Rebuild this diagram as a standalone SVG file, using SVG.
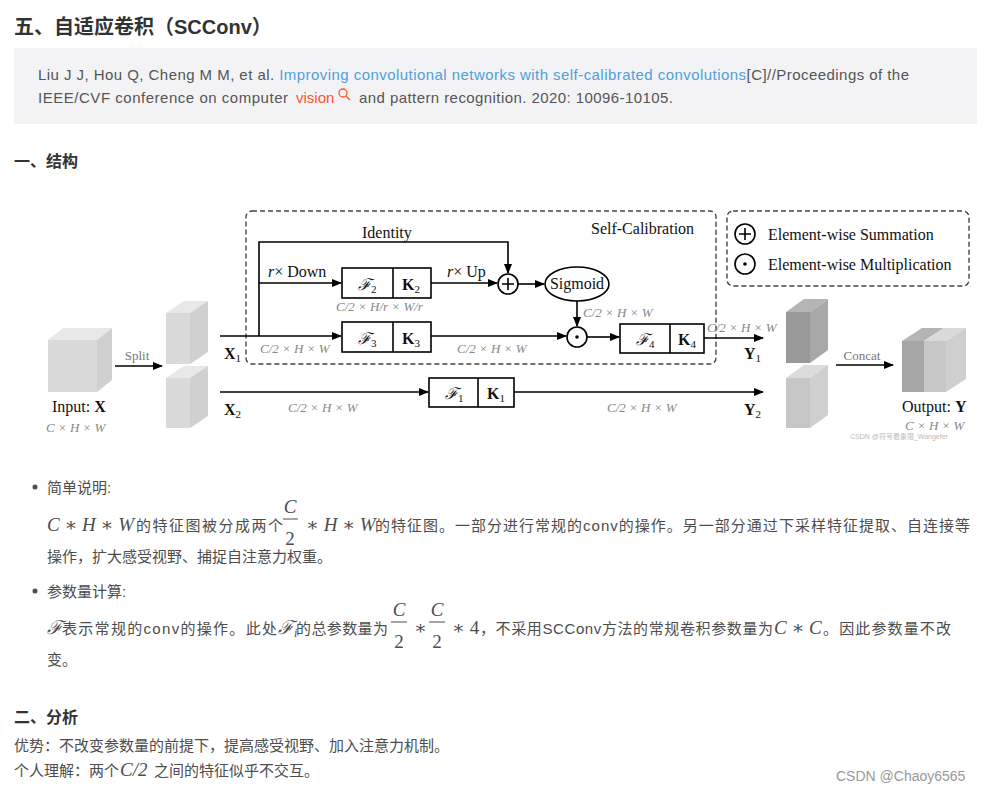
<svg xmlns="http://www.w3.org/2000/svg" width="998" height="793" viewBox="0 0 998 793">
<defs>
<marker id="ah" markerWidth="10" markerHeight="8" refX="9" refY="4" orient="auto" markerUnits="userSpaceOnUse"><path d="M0,0 L10,4 L0,8 z" fill="#000"/></marker>
<style>
.cn{font-family:"Liberation Sans","Noto Sans CJK SC",sans-serif;fill:#4d4d4d;font-size:15px}
.h{font-family:"Liberation Sans","Noto Sans CJK SC",sans-serif;fill:#333;font-weight:bold}
.m{font-family:"Liberation Serif","DejaVu Serif",serif;font-style:italic;fill:#4d4d4d;font-size:19px}
.mr{font-family:"Liberation Serif","DejaVu Serif",serif;fill:#4d4d4d;font-size:19px}
.d{font-family:"Liberation Serif",serif;font-size:16px;fill:#111}
.g{font-family:"Liberation Serif",serif;font-size:13px;fill:#888;font-style:italic}
.ln{stroke:#000;stroke-width:1.6;fill:none}
.arr{stroke:#000;stroke-width:1.6;fill:none;marker-end:url(#ah)}
.box{fill:#fff;stroke:#000;stroke-width:1.6}
.dash{fill:none;stroke:#444;stroke-width:1.4;stroke-dasharray:5,3}
</style>
</defs>
<rect width="998" height="793" fill="#fff"/>
<text x="14" y="34" class="h" font-size="20">五、自适应卷积（SCConv）</text>
<rect x="14" y="48" width="963" height="76" fill="#f3f3f5"/>
<text x="38" y="80" class="cn" style="fill:#555" textLength="871">Liu J J, Hou Q, Cheng M M, et al. <tspan style="fill:#4ea1db">Improving convolutional networks with self-calibrated convolutions</tspan>[C]//Proceedings of the</text>
<text x="38" y="103" class="cn" style="fill:#555" textLength="250">IEEE/CVF conference on computer</text>
<text x="296" y="103" class="cn" style="fill:#fc5531">vision</text>
<text x="359" y="103" class="cn" style="fill:#555" textLength="314">and pattern recognition. 2020: 10096-10105.</text>
<g fill="none" stroke="#fc5531" stroke-width="1.3"><circle cx="343" cy="93" r="4"/><line x1="346" y1="96" x2="350" y2="100"/></g>
<text x="14" y="167" class="h" font-size="16">一、结构</text>

<g id="selfcal"><rect x="246" y="211" width="470" height="153" rx="6" class="dash"/><text x="591" y="234" class="d">Self-Calibration</text></g>
<g id="legend"><rect x="727" y="211" width="242" height="75" rx="6" class="dash"/>
<circle cx="745" cy="234" r="10" class="ln"/><path d="M739,234h12M745,228v12" class="ln"/>
<text x="768" y="240" class="d">Element-wise Summation</text>
<circle cx="745" cy="264" r="10" class="ln"/><circle cx="745" cy="264" r="1.8" fill="#000"/>
<text x="768" y="270" class="d">Element-wise Multiplication</text></g>

<g id="input"><path d="M48,340 L63,328 L112,328 L97,340z" fill="#e8e8e8"/><path d="M97,340 L112,328 L112,380 L97,392z" fill="#d0d0d0"/><rect x="48" y="340" width="49" height="52" fill="#dadada"/>
<text x="52" y="412" class="d">Input: <tspan font-weight="bold">X</tspan></text><text x="46" y="432" class="g">C × H × W</text></g>
<g id="x1cube"><path d="M166,313 L184,301 L208,301 L190,313z" fill="#e8e8e8"/><path d="M190,313 L208,301 L208,352 L190,364z" fill="#d0d0d0"/><rect x="166" y="313" width="24" height="51" fill="#dadada"/></g>
<g id="x2cube"><path d="M166,378 L184,366 L208,366 L190,378z" fill="#e8e8e8"/><path d="M190,378 L208,366 L208,416 L190,428z" fill="#d0d0d0"/><rect x="166" y="378" width="24" height="50" fill="#dadada"/></g>
<g id="y1cube"><path d="M786,312 L804,299 L828,299 L810,312z" fill="#b5b5b5"/><path d="M810,312 L828,299 L828,350 L810,363z" fill="#a8a8a8"/><rect x="786" y="312" width="24" height="51" fill="#999"/></g>
<g id="y2cube"><path d="M786,378 L804,365 L828,365 L810,378z" fill="#dcdcdc"/><path d="M810,378 L828,365 L828,415 L810,428z" fill="#cfcfcf"/><rect x="786" y="378" width="24" height="50" fill="#c6c6c6"/></g>
<g id="output"><path d="M902,341 L922,328 L944,328 L924,341z" fill="#b5b5b5"/><path d="M924,341 L944,328 L966,328 L946,341z" fill="#dadada"/><path d="M946,341 L966,328 L966,379 L946,392z" fill="#cfcfcf"/><rect x="902" y="341" width="22" height="51" fill="#a6a6a6"/><rect x="924" y="341" width="22" height="51" fill="#c8c8c8"/>
<text x="902" y="412" class="d">Output: <tspan font-weight="bold">Y</tspan></text><text x="905" y="430" class="g">C × H × W</text>
<text x="850" y="439" font-family="Liberation Sans,Noto Sans CJK SC,sans-serif" font-size="7" fill="#bbb">CSDN @符号看象限_Wangefer</text></g>

<g id="f2"><rect x="342" y="268" width="89" height="30" class="box"/><line x1="393" y1="268" x2="393" y2="298" class="ln"/><text x="358" y="290" class="d" font-style="italic">ℱ<tspan font-size="11" dy="3" font-style="normal">2</tspan></text><text x="402" y="290" class="d" font-weight="bold">K<tspan font-size="11" dy="3" font-weight="normal">2</tspan></text></g>
<g id="f3"><rect x="342" y="322" width="89" height="30" class="box"/><line x1="393" y1="322" x2="393" y2="352" class="ln"/><text x="358" y="344" class="d" font-style="italic">ℱ<tspan font-size="11" dy="3" font-style="normal">3</tspan></text><text x="402" y="344" class="d" font-weight="bold">K<tspan font-size="11" dy="3" font-weight="normal">3</tspan></text></g>
<g id="f4"><rect x="620" y="324" width="84" height="29" class="box"/><line x1="670" y1="324" x2="670" y2="353" class="ln"/><text x="636" y="345" class="d" font-style="italic">ℱ<tspan font-size="11" dy="3" font-style="normal">4</tspan></text><text x="678" y="345" class="d" font-weight="bold">K<tspan font-size="11" dy="3" font-weight="normal">4</tspan></text></g>
<g id="f1"><rect x="429" y="378" width="85" height="29" class="box"/><line x1="478" y1="378" x2="478" y2="407" class="ln"/><text x="445" y="399" class="d" font-style="italic">ℱ<tspan font-size="11" dy="3" font-style="normal">1</tspan></text><text x="487" y="399" class="d" font-weight="bold">K<tspan font-size="11" dy="3" font-weight="normal">1</tspan></text></g>
<g id="plus"><circle cx="508" cy="284" r="10" class="box"/><path d="M502,284h12M508,278v12" class="ln"/></g>
<g id="sigmoid"><ellipse cx="577" cy="284" rx="32" ry="17" class="box"/><text x="577" y="289" class="d" text-anchor="middle">Sigmoid</text></g>
<g id="mult"><circle cx="577" cy="337" r="10" class="box"/><circle cx="577" cy="337" r="1.8" fill="#000"/></g>

<g id="connectors">
<line x1="115" y1="366" x2="162" y2="366" class="arr"/>
<line x1="836" y1="365" x2="893" y2="365" class="arr"/>
<line x1="220" y1="336" x2="341" y2="336" class="arr"/>
<path d="M259,336 V242 H508 V273" class="arr"/>
<path d="M259,283 H341" class="arr"/>
<path d="M431,283 H497" class="arr"/>
<path d="M518,284 H544" class="arr"/>
<path d="M577,301 V326" class="arr"/>
<path d="M431,336 H566" class="arr"/>
<path d="M587,337 H619" class="arr"/>
<path d="M704,338 H763" class="arr"/>
<path d="M220,392 H428" class="arr"/>
<path d="M514,392 H763" class="arr"/>
</g>
<g id="labels">
<text x="137" y="360" font-family="Liberation Serif,serif" font-size="13" fill="#777" text-anchor="middle">Split</text>
<text x="862" y="360" font-family="Liberation Serif,serif" font-size="13" fill="#777" text-anchor="middle">Concat</text>
<text x="362" y="238" class="d">Identity</text>
<text x="268" y="277" class="d"><tspan font-style="italic">r</tspan>× Down</text>
<text x="447" y="277" class="d"><tspan font-style="italic">r</tspan>× Up</text>
<text x="336" y="311" class="g">C/2 × H/r × W/r</text>
<text x="583" y="317" class="g">C/2 × H × W</text>
<text x="260" y="353" class="g">C/2 × H × W</text>
<text x="457" y="353" class="g">C/2 × H × W</text>
<text x="707" y="332" class="g">C/2 × H × W</text>
<text x="288" y="412" class="g">C/2 × H × W</text>
<text x="607" y="412" class="g">C/2 × H × W</text>
<text x="224" y="359" class="d" font-weight="bold">X<tspan font-size="11" dy="3" font-weight="normal">1</tspan></text>
<text x="224" y="415" class="d" font-weight="bold">X<tspan font-size="11" dy="3" font-weight="normal">2</tspan></text>
<text x="744" y="359" class="d" font-weight="bold">Y<tspan font-size="11" dy="3" font-weight="normal">1</tspan></text>
<text x="744" y="415" class="d" font-weight="bold">Y<tspan font-size="11" dy="3" font-weight="normal">2</tspan></text>
</g>

<circle cx="35" cy="487" r="2.5" fill="#4d4d4d"/>
<text x="47" y="493" class="cn">简单说明:</text>
<text x="47" y="531" class="m">C ∗ H ∗ W</text>
<text x="136" y="531" class="cn" textLength="147">的特征图被分成两个</text>
<text x="290" y="513" class="m" text-anchor="middle">C</text><line x1="283" y1="519" x2="298" y2="519" stroke="#4d4d4d"/><text x="290" y="545" class="mr" text-anchor="middle">2</text>
<text x="306" y="531" class="m">∗ H ∗ W</text>
<text x="375" y="531" class="cn" textLength="595">的特征图。一部分进行常规的conv的操作。另一部分通过下采样特征提取、自连接等</text>
<text x="47" y="562" class="cn">操作，扩大感受视野、捕捉自注意力权重。</text>
<circle cx="35" cy="591" r="2.5" fill="#4d4d4d"/>
<text x="47" y="597" class="cn">参数量计算:</text>
<text x="47" y="634" class="m">ℱ</text>
<text x="62" y="634" class="cn" textLength="215">表示常规的conv的操作。此处</text>
<text x="278" y="634" class="m">ℱ<tspan font-size="12" dy="3">i</tspan></text>
<text x="296" y="634" class="cn" textLength="92">的总参数量为</text>
<text x="399" y="616" class="m" text-anchor="middle">C</text><line x1="391" y1="622" x2="407" y2="622" stroke="#4d4d4d"/><text x="399" y="648" class="mr" text-anchor="middle">2</text>
<text x="414" y="634" class="m">∗</text>
<text x="437" y="616" class="m" text-anchor="middle">C</text><line x1="429" y1="622" x2="445" y2="622" stroke="#4d4d4d"/><text x="437" y="648" class="mr" text-anchor="middle">2</text>
<text x="452" y="634" class="m">∗ <tspan font-style="normal">4</tspan></text>
<text x="480" y="634" class="cn" textLength="293">，不采用SCConv方法的常规卷积参数量为</text>
<text x="774" y="634" class="m">C ∗ C</text>
<text x="823" y="634" class="cn" textLength="128">。因此参数量不改</text>
<text x="47" y="665" class="cn">变。</text>
<text x="14" y="723" class="h" font-size="16">二、分析</text>
<text x="14" y="751" class="cn">优势：不改变参数量的前提下，提高感受视野、加入注意力机制。</text>
<text x="14" y="776" class="cn">个人理解：两个</text>
<text x="120" y="776" class="m">C/2</text>
<text x="154" y="776" class="cn">之间的特征似乎不交互。</text>
<text x="836" y="781" font-family="Liberation Sans,sans-serif" font-size="14" fill="#999">CSDN @Chaoy6565</text>
</svg>
